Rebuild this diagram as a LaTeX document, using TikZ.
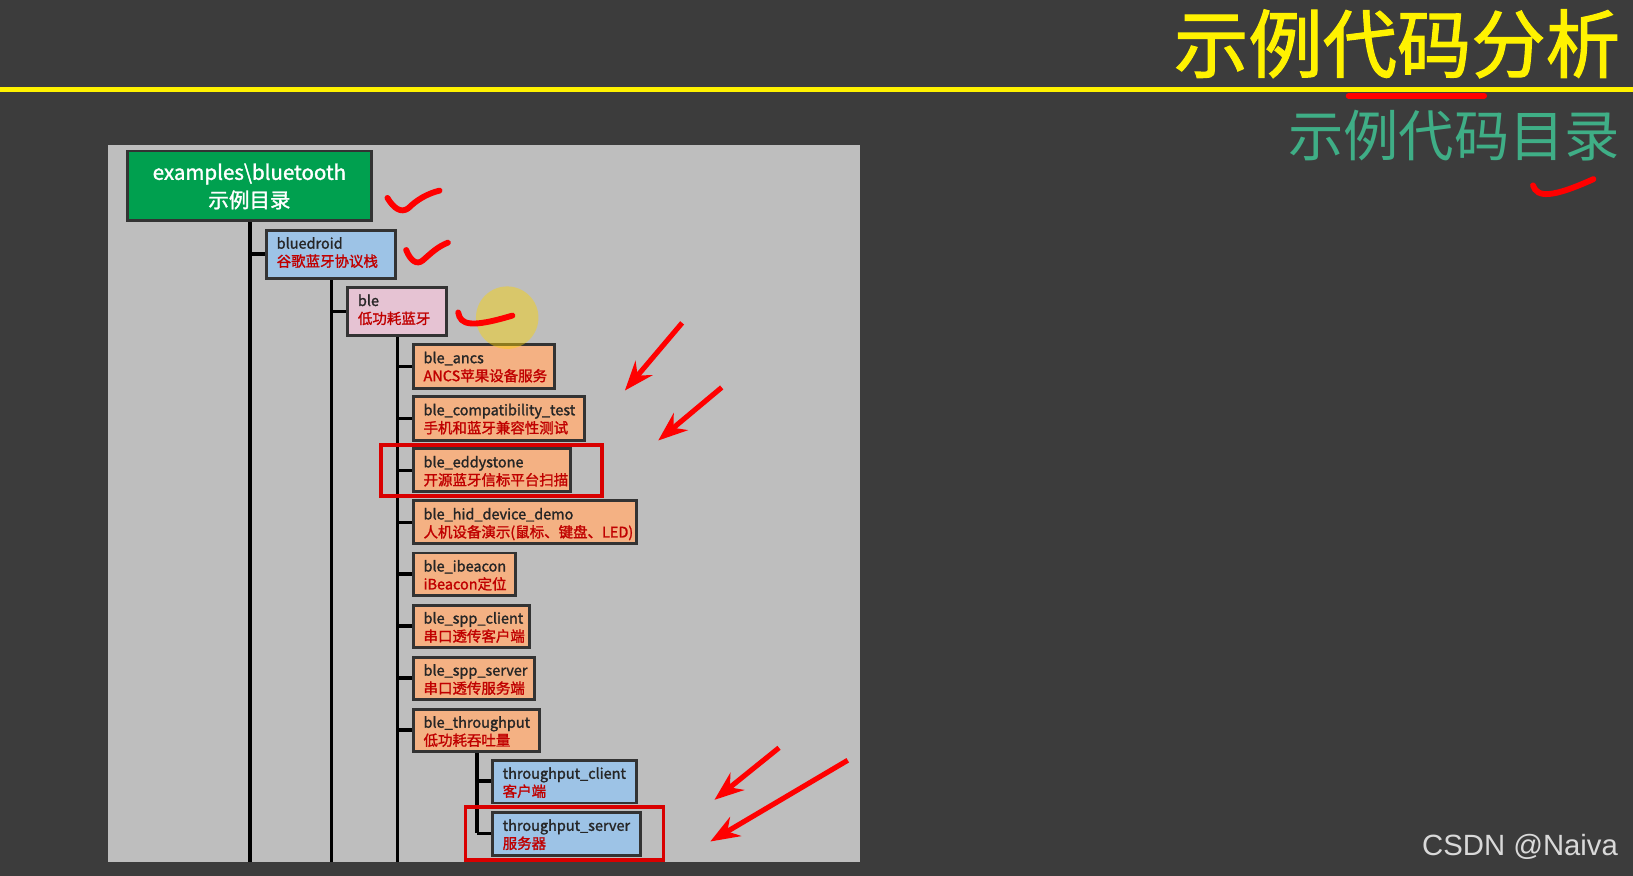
\documentclass[tikz,border=0pt]{standalone}
\usepackage{fontspec}
\setmainfont{Noto Sans CJK SC}
\newfontfamily\cjkb{Noto Sans CJK SC}[FakeBold=1.5]
\newfontfamily\csdnfont{Liberation Sans}
\usetikzlibrary{arrows.meta}
\definecolor{bgd}{HTML}{3C3C3C}
\definecolor{panel}{HTML}{BEBEBE}
\definecolor{rootg}{HTML}{00A04F}
\definecolor{blueb}{HTML}{9DC3E6}
\definecolor{pinkb}{HTML}{E6C3D3}
\definecolor{orangeb}{HTML}{F4B183}
\definecolor{tealt}{HTML}{3FAE86}
\definecolor{yel}{HTML}{FFF200}
\definecolor{redt}{HTML}{C00000}
\tikzset{
 ln/.style={line width=0.9pt,black},
 redmark/.style={red,line width=1.6pt,line cap=round},
 arr/.style={red,line width=1.4pt,-{Stealth[length=8pt]}},
 hl/.style={red!85!black,line width=1pt}
}
\newcommand{\bx}[8]{% name, x1,y1,x2,y2, fill, line1, line2
 \fill[#6] (#2,#3) rectangle (#4,#5);
 \draw[black!80,line width=0.8pt] (#2,#3) rectangle (#4,#5);
 \node[anchor=north west,inner sep=0pt,align=left,font=\cjkb\fontsize{3.95}{5.2}\selectfont] (#1) at ({#2+9},{#3+6}) {\textcolor{black!85}{#7}\\[-0.3pt]\textcolor{redt}{#8}};}
\begin{document}
\begin{tikzpicture}[x=0.01cm,y=-0.01cm]
\fill[bgd] (0,0) rectangle (1568,841);
\useasboundingbox (0,0) rectangle (1568,841);
\draw[yel,line width=1.3pt] (0,86) -- (1568,86);
\node[anchor=east,text=yel,font=\cjkb\fontsize{20.3}{22}\selectfont] (t1) at (1568,42) {示例代码分析};
\node[anchor=east,text=tealt,font=\fontsize{15.1}{16}\selectfont] (t2) at (1568,130) {示例代码目录};
\draw[redmark] (1295,92) -- (1425,92);
\draw[redmark] (1472,178) .. controls (1476,190) and (1490,190) .. (1530,172);
\fill[panel] (104,139) rectangle (826,828);
% tree lines
\draw[ln] (240,212) -- (240,828);
\draw[ln] (318,267) -- (318,828);
\draw[ln] (382,322) -- (382,828);
\draw[ln] (458,722) -- (458,800);
\draw[ln] (240,244) -- (256,244);
\draw[ln] (318,299) -- (334,299);
\foreach \y in {352,402,452,502,551,601,651,701} \draw[ln] (382,\y) -- (397,\y);
\draw[ln] (458,750) -- (473,750);
\draw[ln] (458,800) -- (473,800);
% root
\fill[rootg] (122,145) rectangle (357,212);
\draw[black!80,line width=0.8pt] (122,145) rectangle (357,212);
\node[text=white,align=center,font=\cjkb\fontsize{5.6}{7.6}\selectfont] (root) at (239.5,179) {examples\textbackslash bluetooth\\示例目录};
\bx{bd}{256}{221}{380}{267}{blueb}{bluedroid}{谷歌蓝牙协议栈}
\bx{ble}{334}{276}{429}{322}{pinkb}{ble}{低功耗蓝牙}
\bx{a}{397}{331}{532}{373}{orangeb}{ble\_ancs}{ANCS苹果设备服务}
\bx{b}{397}{381}{561}{423}{orangeb}{ble\_compatibility\_test}{手机和蓝牙兼容性测试}
\bx{c}{397}{431}{548}{472}{orangeb}{ble\_eddystone}{开源蓝牙信标平台扫描}
\bx{d}{397}{481}{611}{522}{orangeb}{ble\_hid\_device\_demo}{人机设备演示(鼠标、键盘、LED)}
\bx{e}{397}{531}{495}{572}{orangeb}{ble\_ibeacon}{iBeacon定位}
\bx{f}{397}{581}{508}{622}{orangeb}{ble\_spp\_client}{串口透传客户端}
\bx{g}{397}{631}{513}{672}{orangeb}{ble\_spp\_server}{串口透传服务端}
\bx{h}{397}{681}{518}{722}{orangeb}{ble\_throughput}{低功耗吞吐量}
\bx{i}{473}{730}{611}{771}{blueb}{throughput\_client}{客户端}
\bx{j}{473}{780}{615}{821}{blueb}{throughput\_server}{服务器}
% highlights
\draw[hl] (366,427) rectangle (578,476);
\draw[hl] (447,775) rectangle (637,826);
\fill[yellow!70!orange,opacity=0.45] (487,305) circle (30);
\draw[redmark] (372,190) .. controls (378,200) and (385,205) .. (392,200) .. controls (400,192) and (410,186) .. (422,183);
\draw[redmark] (390,240) .. controls (394,250) and (400,255) .. (406,250) .. controls (414,243) and (420,237) .. (430,233);
\draw[redmark] (440,300) .. controls (442,312) and (452,315) .. (492,303);
\coordinate (a1s) at (655,310); \coordinate (a1e) at (600,375);
\coordinate (a2s) at (693,372); \coordinate (a2e) at (632,423);
\coordinate (a3s) at (748,718); \coordinate (a3e) at (686,768);
\coordinate (a4s) at (814,730); \coordinate (a4e) at (682,808);
\draw[arr] (a1s) -- (a1e);
\draw[arr] (a2s) -- (a2e);
\draw[arr] (a3s) -- (a3e);
\draw[arr] (a4s) -- (a4e);
\node[anchor=east,text=white!85!black,font=\csdnfont\fontsize{8}{9}\selectfont] (csdn) at (1566,813) {CSDN @Naiva};
\end{tikzpicture}
\end{document}
